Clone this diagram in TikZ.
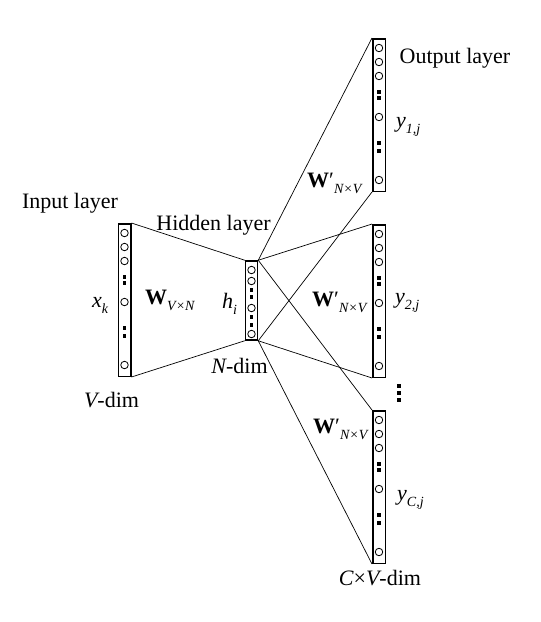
\documentclass[tikz,border=0pt]{standalone}
\usepackage{fontspec}
\setmainfont{Liberation Serif}
\newcommand{\lsub}[1]{\raisebox{-6pt}{\fontsize{14}{14}\selectfont\itshape #1}}
\begin{document}
\begin{tikzpicture}[x=1pt, y=-1pt,
     font=\fontsize{22}{26}\selectfont,
     layer/.style={draw, line width=1.5pt, minimum width=12.5pt, inner sep=0pt},
     unit/.style={draw, circle, line width=0.8pt, minimum size=7.5pt, inner sep=0pt},
     sq/.style={fill, minimum size=3.4pt, inner sep=0pt},
     lbl/.style={anchor=base west, inner sep=0pt},
     wire/.style={line width=0.7pt}]
\useasboundingbox (0,0) rectangle (541,622);
% input and output layers
\foreach \name/\cx/\top in {in/124.5/224, out1/379/39, out2/379/225, out3/379/411}{
    \node[layer, minimum height=152.5pt] (\name) at (\cx,{\top+76}) {};
    \foreach \k/\d in {1/9, 2/23, 3/37, 4/78, 5/141}
        \node[unit] (\name-u\k) at (\cx,{\top+\d}) {};
    \foreach \d in {53, 59, 104, 112}
        \node[sq] (\name-d\d) at (\cx,{\top+\d}) {};
}
% hidden layer
\node[layer, minimum width=12pt, minimum height=79pt] (hid) at (251.5,300.5) {};
\foreach \k/\d in {1/9, 2/20, 3/47, 4/73}
    \node[unit] (hid-u\k) at (251.5,{261+\d}) {};
\foreach \d in {29, 36, 56, 64}
    \node[sq] (hid-d\d) at (251.5,{261+\d}) {};
% dots between the output layers
\foreach \d in {386, 393, 400}
    \node[sq, minimum size=3.8pt] (vd\d) at (399,\d) {};
% connectors
\draw[wire] (in.north east) -- (hid.north west);
\draw[wire] (in.south east) -- (hid.south west);
\foreach \n in {1,2,3}{
    \draw[wire] (hid.north east) -- (out\n.north west);
    \draw[wire] (hid.south east) -- (out\n.south west);
}
% labels
\node[anchor=base, inner sep=0pt] (inlbl) at (70,208) {Input layer};
\node[anchor=base, inner sep=0pt] (hidlbl) at (213.5,230) {Hidden layer};
\node[anchor=base, inner sep=0pt] (outlbl) at (455,63) {Output layer};
\node[anchor=base, inner sep=0pt] (vdim) at (111.5,407) {{\itshape V}-dim};
\node[anchor=base, inner sep=0pt] (ndim) at (239.5,373) {{\itshape N}-dim};
\node[anchor=base, inner sep=0pt] (cvdim) at (380,585) {{\itshape C}×{\itshape V}-dim};
\node[lbl] (xk) at (92,307) {\itshape x\lsub{k}};
\node[lbl] (hi) at (222,308) {\itshape h\lsub{i}};
\node[lbl] (wvn) at (145,304) {\textbf{W}\lsub{V×N}};
\node[lbl] (y1) at (396,127) {\itshape y\lsub{1,j}};
\node[lbl] (y2) at (395,303) {\itshape y\lsub{2,j}};
\node[lbl] (yc) at (397,500) {\itshape y\lsub{C,j}};
\node[lbl] (w1) at (307,187) {\textbf{W}′\lsub{N×V}};
\node[lbl] (w2) at (312,306) {\textbf{W}′\lsub{N×V}};
\node[lbl] (w3) at (313,433) {\textbf{W}′\lsub{N×V}};
\end{tikzpicture}
\end{document}
